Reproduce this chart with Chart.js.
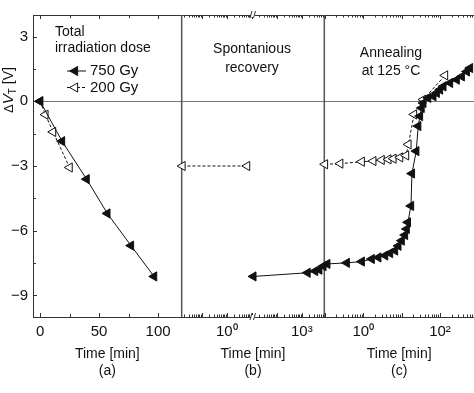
<!DOCTYPE html>
<html><head><meta charset="utf-8">
<script src="https://cdn.jsdelivr.net/npm/chart.js@4/dist/chart.umd.min.js"></script>
<style>html,body{margin:0;padding:0;background:#fff}#wrap{width:474px;height:393px}</style>
</head><body><div id="wrap"><canvas id="c" width="474" height="393"></canvas></div>
<script>
// ---- Panel (a): irradiation, linear time [min]
const irrTime750 = [0, 18.6, 39.4, 57, 77, 96.6];
const irrDv750   = [0, -1.85, -3.61, -5.2, -6.69, -8.12];
const irrTime200 = [0, 4.5, 11, 25];
const irrDv200   = [0, -0.62, -1.42, -3.07];
// ---- Panel (b): spontaneous recovery, log time [min]
const recTime750 = [11.6, 1700, 3400, 5000, 7300];
const recDv750   = [-8.12, -7.95, -7.87, -7.81, -7.64];
const recTime200 = [0.017, 6.5];
const recDv200   = [-3.0, -3.0];
// ---- Panel (c): annealing at 125 °C, log time [min]
const annTime750 = [0.115, 0.37, 0.91, 1.65, 2.46, 3.7, 4.97, 6.7, 8.2, 10, 12.2, 13.5, 14.5, 17.5, 18.5, 24, 27, 30, 33, 36.6, 49, 67, 82, 100, 122, 182, 272, 368, 500, 605];
const annDv750   = [-7.54, -7.49, -7.43, -7.31, -7.24, -7.15, -7.04, -6.92, -6.7, -6.46, -6.2, -5.92, -5.61, -4.85, -3.35, -2.31, -1.15, -0.69, -0.31, -0.08, 0.16, 0.23, 0.39, 0.54, 0.69, 0.85, 1.0, 1.15, 1.38, 1.54];
const annTime200 = [0.1, 0.25, 0.91, 1.82, 3.0, 4.5, 6.1, 9.1, 13, 15, 21, 36.6, 135];
const annDv200   = [-2.92, -2.89, -2.80, -2.77, -2.72, -2.69, -2.66, -2.60, -2.51, -2.0, -0.61, 0.08, 1.2];
// ---- ticks and labels
const yTickValues = [-9, -6, -3, 0, 3];
const yTickLabels = ['\u22129', '\u22126', '\u22123', '0', '3'];
const aTickValues = [0, 50, 100];
const aTickLabels = ['0', '50', '100'];
const bTickValues = [1, 1000];
const bTickLabels = ['10\u2070', '10\u00B3'];
const cTickValues = [1, 100];
const cTickLabels = ['10\u2070', '10\u00B2'];
const axisTitleA = ['Time [min]', '(a)'];
const axisTitleB = ['Time [min]', '(b)'];
const axisTitleC = ['Time [min]', '(c)'];
const seriesNames = ['750 Gy', '200 Gy'];

const zip = (xs, ys) => xs.map((x, i) => ({x, y: ys[i]}));
const FONT = '"Liberation Sans", Arial, Helvetica, sans-serif';
Chart.defaults.font.family = FONT;
Chart.defaults.color = '#111';

function ds750(data, xid) {
  return {data, xAxisID: xid, yAxisID: 'y', borderColor: '#111', borderWidth: 1,
    pointStyle: 'triangle', pointRotation: -90, pointRadius: 5.3, pointBackgroundColor: '#111',
    pointBorderColor: '#111', pointBorderWidth: 1, clip: false, tension: 0};
}
function ds200(data, xid) {
  return {data, xAxisID: xid, yAxisID: 'y', borderColor: '#111', borderWidth: 1, borderDash: [3, 2],
    pointStyle: 'triangle', pointRotation: -90, pointRadius: 5.3, pointBackgroundColor: '#fff',
    pointBorderColor: '#111', pointBorderWidth: 1, clip: false, tension: 0};
}

function xScale(type, min, max, tickVals, tickLabels, title, weight) {
  return {
    type, position: 'bottom', min, max, stack: 'time', stackWeight: weight, bounds: 'data',
    grid: {display: false, drawTicks: false},
    border: {display: true, color: '#333', width: 1},
    afterBuildTicks: s => { s.ticks = tickVals.map(v => ({value: v})); },
    afterFit: s => { s.height = 76; s.paddingLeft = 0; s.paddingRight = 0; },
    ticks: {autoSkip: false, maxRotation: 0, minRotation: 0, padding: 6,
      font: {size: 15}, color: '#111', callback: (v, i) => tickLabels[i]},
    title: {display: true, text: title, font: {size: 14, lineHeight: 1.25}, color: '#111',
      padding: {top: 0, bottom: 13}}
  };
}

function logValues(min, max) {
  const out = [];
  for (let e = Math.floor(Math.log10(min)); e <= Math.ceil(Math.log10(max)); e++) {
    for (let k = 1; k <= 9; k++) {
      const v = k * Math.pow(10, e);
      if (v >= min && v <= max) out.push({v, major: k === 1});
    }
  }
  return out;
}

const decor = {
  id: 'decor',
  beforeDatasetsDraw(chart) {
    const {ctx, chartArea: ca, scales} = chart;
    ctx.save();
    // top border
    ctx.strokeStyle = '#333'; ctx.lineWidth = 1;
    ctx.beginPath(); ctx.moveTo(ca.left, ca.top + 0.5); ctx.lineTo(ca.right, ca.top + 0.5); ctx.stroke();
    // panel dividers
    ctx.strokeStyle = '#555'; ctx.lineWidth = 1.5;
    [scales.xa.right, scales.xb.right].forEach(x => {
      ctx.beginPath(); ctx.moveTo(x, ca.top); ctx.lineTo(x, ca.bottom); ctx.stroke();
    });
    // inward ticks
    ctx.strokeStyle = '#333'; ctx.lineWidth = 1;
    const vtick = (x, len) => {
      ctx.beginPath(); ctx.moveTo(x, ca.bottom); ctx.lineTo(x, ca.bottom - len); ctx.stroke();
      ctx.beginPath(); ctx.moveTo(x, ca.top); ctx.lineTo(x, ca.top + len); ctx.stroke();
    };
    [0, 25, 50, 75, 100].forEach(v => vtick(Math.round(scales.xa.getPixelForValue(v)) + 0.5, v % 50 === 0 ? 4 : 3));
    ['xb', 'xc'].forEach(id => {
      const s = scales[id];
      logValues(s.min, s.max).forEach(t => vtick(Math.round(s.getPixelForValue(t.v)) + 0.5, t.major ? 4 : 2.5));
    });
    [-9, -7.5, -6, -4.5, -3, -1.5, 0, 1.5, 3].forEach(v => {
      const y = Math.round(scales.y.getPixelForValue(v)) + 0.5;
      ctx.beginPath(); ctx.moveTo(ca.left, y); ctx.lineTo(ca.left + (Number.isInteger(v / 3) ? 4 : 3), y); ctx.stroke();
    });
    // axis break marks in panel (b)
    const bx = scales.xb.left + (scales.xb.right - scales.xb.left) * 0.5;
    [ca.top, ca.bottom].forEach(y => {
      ctx.fillStyle = '#fff'; ctx.fillRect(bx - 2, y - 2, 4, 4);
      ctx.strokeStyle = '#333'; ctx.lineWidth = 1;
      ctx.beginPath(); ctx.moveTo(bx - 3, y + 3); ctx.lineTo(bx - 1, y - 4); ctx.stroke();
      ctx.beginPath(); ctx.moveTo(bx + 0.5, y + 3); ctx.lineTo(bx + 2.5, y - 4); ctx.stroke();
    });
    ctx.restore();
  },
  afterDraw(chart) {
    const {ctx} = chart;
    ctx.save();
    ctx.fillStyle = '#111';
    ctx.textBaseline = 'middle';
    ctx.font = '14px ' + FONT;
    ctx.textAlign = 'left';
    ctx.fillText('Total', 55, 32);
    ctx.fillText('irradiation dose', 55, 48.5);
    ctx.textAlign = 'center';
    ctx.fillText('Spontanious', 252, 49);
    ctx.fillText('recovery', 252, 68);
    ctx.fillText('Annealing', 391, 53.5);
    ctx.fillText('at 125 \u00B0C', 391, 71.5);
    // legend
    const tri = (x, y, fill) => {
      const r = 5.3;
      ctx.beginPath();
      ctx.moveTo(x - r, y);
      ctx.lineTo(x + r * 0.5, y - r * Math.sqrt(3) / 2);
      ctx.lineTo(x + r * 0.5, y + r * Math.sqrt(3) / 2);
      ctx.closePath();
      ctx.fillStyle = fill; ctx.fill();
      ctx.strokeStyle = '#111'; ctx.lineWidth = 1; ctx.stroke();
    };
    ctx.strokeStyle = '#111'; ctx.lineWidth = 1;
    ctx.beginPath(); ctx.moveTo(67, 71); ctx.lineTo(86, 71); ctx.stroke();
    tri(75, 71, '#111');
    ctx.setLineDash([3, 2]);
    ctx.beginPath(); ctx.moveTo(67, 87.5); ctx.lineTo(86, 87.5); ctx.stroke();
    ctx.setLineDash([]);
    tri(75, 87.5, '#fff');
    ctx.fillStyle = '#111';
    ctx.textAlign = 'left';
    ctx.font = '15px ' + FONT;
    ctx.fillText(seriesNames[0], 90, 71);
    ctx.fillText(seriesNames[1], 90, 87.5);
    // y axis title: ΔV_T [V]
    ctx.translate(9, 90);
    ctx.rotate(-Math.PI / 2);
    const parts = [
      {t: '\u0394', f: '13px ' + FONT, dy: 0},
      {t: 'V', f: 'italic 15px ' + FONT, dy: 0},
      {t: 'T', f: '10px ' + FONT, dy: 4},
      {t: ' [V]', f: '14px ' + FONT, dy: 0}
    ];
    let w = 0;
    parts.forEach(p => { ctx.font = p.f; p.w = ctx.measureText(p.t).width; w += p.w; });
    let x = -w / 2;
    ctx.textAlign = 'left';
    parts.forEach(p => { ctx.font = p.f; ctx.fillText(p.t, x, p.dy); x += p.w; });
    ctx.restore();
  }
};

new Chart(document.getElementById('c'), {
  type: 'line',
  data: {
    datasets: [
      ds750(zip(irrTime750, irrDv750), 'xa'),
      ds200(zip(irrTime200, irrDv200), 'xa'),
      ds750(zip(recTime750, recDv750), 'xb'),
      ds200(zip(recTime200, recDv200), 'xb'),
      ds750(zip(annTime750, annDv750), 'xc'),
      ds200(zip(annTime200, annDv200), 'xc')
    ]
  },
  options: {
    responsive: false, devicePixelRatio: 1, animation: false,
    layout: {autoPadding: false, padding: {top: 15, right: 0, left: 0, bottom: 0}},
    plugins: {legend: {display: false}, tooltip: {enabled: false}},
    scales: {
      xa: xScale('linear', -6, 120, aTickValues, aTickLabels, axisTitleA, 148.7),
      xb: xScale('logarithmic', Math.pow(10, -1.8), Math.pow(10, 3.9), bTickValues, bTickLabels, axisTitleB, 142.6),
      xc: xScale('logarithmic', Math.pow(10, -1.017), Math.pow(10, 2.886), cTickValues, cTickLabels, axisTitleC, 149.7),
      y: {
        type: 'linear', position: 'left', min: -10, max: 4,
        afterBuildTicks: s => { s.ticks = yTickValues.map(v => ({value: v})); },
        afterFit: s => { s.width = 33; s.paddingTop = 0; s.paddingBottom = 0; },
        grid: {drawTicks: false, color: c => (c.tick && c.tick.value === 0) ? '#777' : 'rgba(0,0,0,0)', lineWidth: 1},
        border: {display: true, color: '#333', width: 1},
        ticks: {padding: 5, font: {size: 15}, color: '#111', callback: (v, i) => yTickLabels[i]}
      }
    }
  },
  plugins: [decor]
});
</script></body></html>
